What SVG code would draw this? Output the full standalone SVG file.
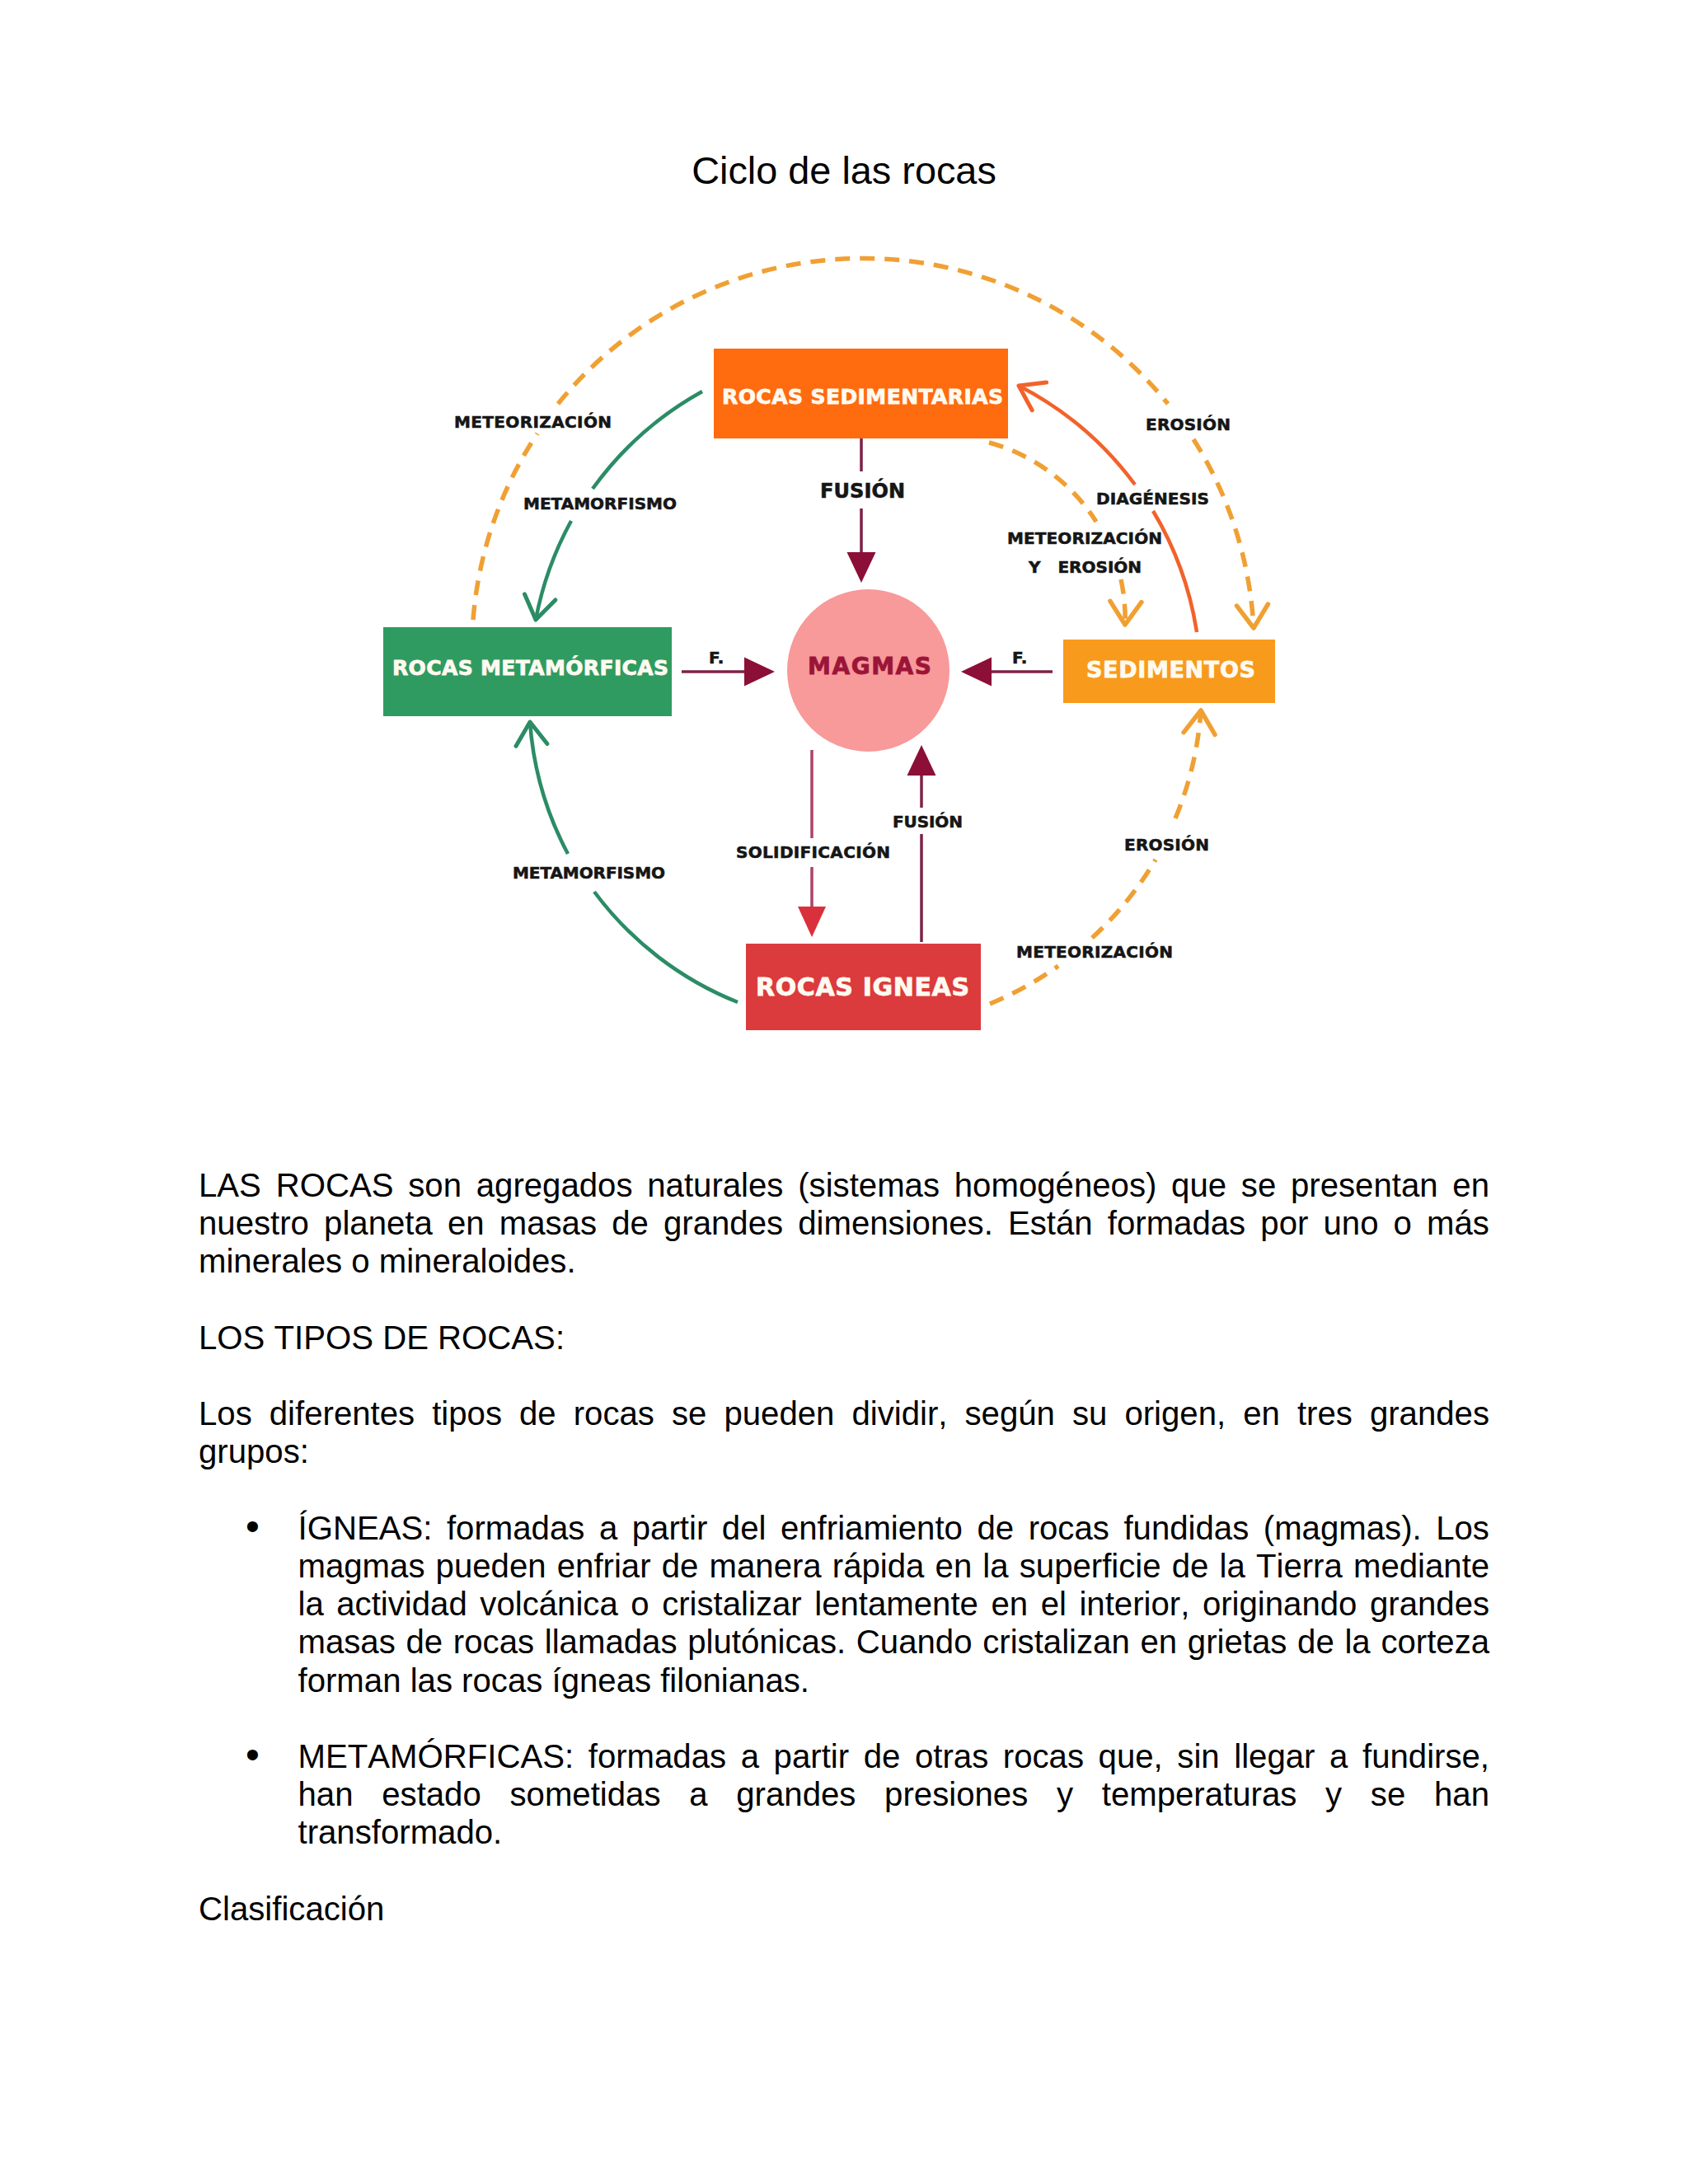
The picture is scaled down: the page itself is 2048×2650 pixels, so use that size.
<svg xmlns="http://www.w3.org/2000/svg" width="2048" height="2650" viewBox="0 0 2048 2650">
<style>
.body{font-family:"Liberation Sans",Arial,sans-serif;font-size:40.16px;fill:#000;font-kerning:none}
.title{font-family:"Liberation Sans",Arial,sans-serif;font-size:46.85px;fill:#000;font-kerning:none}
.box{font-family:"DejaVu Sans",sans-serif;font-weight:bold;fill:#fffaf0;stroke:#fffaf0;stroke-width:0.8;text-anchor:middle}
.lbl{font-family:"DejaVu Sans",sans-serif;font-weight:bold;fill:#161616;stroke:#161616;stroke-width:0.6;font-size:20px}
.green{fill:none;stroke:#2b8c65;stroke-width:4.5}
.orange{fill:none;stroke:#f2622b;stroke-width:4.5}
.dash{fill:none;stroke:#f0a033;stroke-width:5.5;stroke-dasharray:18 12}
.fus{fill:none;stroke:#7d2248;stroke-width:3.5}
.sol{fill:none;stroke:#ad4268;stroke-width:3.5}
</style>
<defs>
<marker id="chev-green" markerUnits="userSpaceOnUse" viewBox="-40 -30 50 60" markerWidth="50" markerHeight="60" refX="0" refY="0" orient="auto"><path d="M-28,-19 L0,0 L-28,19" fill="none" stroke="#2b8c65" stroke-width="5" stroke-linecap="round" stroke-linejoin="round"/></marker>
<marker id="chev-orange" markerUnits="userSpaceOnUse" viewBox="-40 -30 50 60" markerWidth="50" markerHeight="60" refX="0" refY="0" orient="auto"><path d="M-28,-19 L0,0 L-28,19" fill="none" stroke="#f2622b" stroke-width="5" stroke-linecap="round" stroke-linejoin="round"/></marker>
<marker id="chev-dash" markerUnits="userSpaceOnUse" viewBox="-40 -30 50 60" markerWidth="50" markerHeight="60" refX="0" refY="0" orient="auto"><path d="M-28,-19 L0,0 L-28,19" fill="none" stroke="#f0a033" stroke-width="5.5" stroke-linecap="round" stroke-linejoin="round"/></marker>
<marker id="tri-maroon" markerUnits="userSpaceOnUse" viewBox="0 -18 38 36" markerWidth="38" markerHeight="36" refX="0" refY="0" orient="auto"><path d="M0,-17.5 L37,0 L0,17.5 Z" fill="#8b0f37"/></marker>
<marker id="tri-red" markerUnits="userSpaceOnUse" viewBox="0 -18 38 36" markerWidth="38" markerHeight="36" refX="0" refY="0" orient="auto"><path d="M0,-17 L37,0 L0,17 Z" fill="#da303c"/></marker>
</defs>
<rect x="0" y="0" width="2048" height="2650" fill="#ffffff"/>

<text class="title" x="1024" y="223" text-anchor="middle">Ciclo de las rocas</text>

<g id="connectors">
  <path class="dash" d="M574,752 A476,476 0 0 1 652,526"/>
  <path class="dash" d="M677,490 A476,476 0 0 1 1417,490"/>
  <path class="dash" d="M1448,533 A476,476 0 0 1 1521,762" marker-end="url(#chev-dash)"/>
  <path class="dash" d="M1200,537 A224,224 0 0 1 1330,633"/>
  <path class="dash" d="M1360,703 A224,224 0 0 1 1365,758" marker-end="url(#chev-dash)"/>
  <path class="dash" d="M1201,1218 A417,417 0 0 0 1284,1172"/>
  <path class="dash" d="M1325,1138 A417,417 0 0 0 1402,1043"/>
  <path class="dash" d="M1426,993 A417,417 0 0 0 1457,862" marker-end="url(#chev-dash)"/>
  <path class="orange" d="M1452,767 A407,407 0 0 0 1399,620"/>
  <path class="orange" d="M1377,588 A407,407 0 0 0 1236,468" marker-end="url(#chev-orange)"/>
  <path class="green" d="M852,475 A407,407 0 0 0 719,593"/>
  <path class="green" d="M693,632 A407,407 0 0 0 650,752" marker-end="url(#chev-green)"/>
  <path class="green" d="M895,1216 A402,402 0 0 1 721,1082"/>
  <path class="green" d="M689,1036 A402,402 0 0 1 643,876" marker-end="url(#chev-green)"/>
  <path class="fus" d="M1045,532 V572"/>
  <path class="fus" d="M1045,617 V670" marker-end="url(#tri-maroon)"/>
  <path class="fus" d="M827,815 H903" marker-end="url(#tri-maroon)"/>
  <path class="fus" d="M1277,815 H1203" marker-end="url(#tri-maroon)"/>
  <path class="fus" d="M1118,1143 V1012"/>
  <path class="fus" d="M1118,980 V941" marker-end="url(#tri-maroon)"/>
  <path class="sol" d="M985,910 V1017"/>
  <path class="sol" d="M985,1052 V1100" marker-end="url(#tri-red)"/>
</g>

<g id="connector-labels">
  <text class="lbl" x="551" y="519" textLength="191">METEORIZACIÓN</text>
  <text class="lbl" x="635" y="618" textLength="186">METAMORFISMO</text>
  <text class="lbl" x="995" y="604" style="font-size:24px" textLength="103">FUSIÓN</text>
  <text class="lbl" x="1390" y="522" textLength="103">EROSIÓN</text>
  <text class="lbl" x="1330" y="612" textLength="137">DIAGÉNESIS</text>
  <text class="lbl" x="1222" y="660" textLength="188">METEORIZACIÓN</text>
  <text class="lbl" x="1248" y="695" style="word-spacing:14px">Y EROSIÓN</text>
  <text class="lbl" x="860" y="805">F.</text>
  <text class="lbl" x="1228" y="805">F.</text>
  <text class="lbl" x="893" y="1041" textLength="187">SOLIDIFICACIÓN</text>
  <text class="lbl" x="1083" y="1004" textLength="85">FUSIÓN</text>
  <text class="lbl" x="622" y="1066" textLength="185">METAMORFISMO</text>
  <text class="lbl" x="1364" y="1032" textLength="103">EROSIÓN</text>
  <text class="lbl" x="1233" y="1162" textLength="190">METEORIZACIÓN</text>
</g>

<g id="node-rocas-sedimentarias">
  <rect x="866" y="423" width="357" height="109" fill="#ff6b0f"/>
  <text class="box" x="1046.5" y="490" font-size="25" textLength="341">ROCAS SEDIMENTARIAS</text>
</g>
<g id="node-rocas-metamorficas">
  <rect x="465" y="761" width="350" height="108" fill="#2f9b61"/>
  <text class="box" x="643.5" y="819" font-size="25" textLength="335">ROCAS METAMÓRFICAS</text>
</g>
<g id="node-magmas">
  <circle cx="1053.5" cy="813.5" r="98.5" fill="#f8999a"/>
  <text class="box" x="1055" y="818" font-size="28" textLength="150" style="fill:#9b1538;stroke:#9b1538">MAGMAS</text>
</g>
<g id="node-sedimentos">
  <rect x="1290" y="776" width="257" height="77" fill="#f89a1c"/>
  <text class="box" x="1420.5" y="822" font-size="27" textLength="205">SEDIMENTOS</text>
</g>
<g id="node-rocas-igneas">
  <rect x="905" y="1145" width="285" height="105" fill="#db3b3d"/>
  <text class="box" x="1046.5" y="1208" font-size="30" textLength="259">ROCAS IGNEAS</text>
</g>

<g id="body-text">
  <text class="body" x="241" y="1452" style="word-spacing:6.6px">LAS ROCAS son agregados naturales (sistemas homogéneos) que se presentan en</text>
  <text class="body" x="241" y="1498.2" style="word-spacing:6.98px">nuestro planeta en masas de grandes dimensiones. Están formadas por uno o más</text>
  <text class="body" x="241" y="1544.4">minerales o mineraloides.</text>
  <text class="body" x="241" y="1636.8">LOS TIPOS DE ROCAS:</text>
  <text class="body" x="241" y="1729.2" style="word-spacing:9.88px">Los diferentes tipos de rocas se pueden dividir, según su origen, en tres grandes</text>
  <text class="body" x="241" y="1775.4">grupos:</text>
  <text class="body" x="298" y="1867.8" style="font-size:48px">•</text>
  <text class="body" x="361.5" y="1867.8" style="word-spacing:6.39px">ÍGNEAS: formadas a partir del enfriamiento de rocas fundidas (magmas). Los</text>
  <text class="body" x="361.5" y="1914" style="word-spacing:1.98px">magmas pueden enfriar de manera rápida en la superficie de la Tierra mediante</text>
  <text class="body" x="361.5" y="1960.2" style="word-spacing:4.38px">la actividad volcánica o cristalizar lentamente en el interior, originando grandes</text>
  <text class="body" x="361.5" y="2006.4" style="word-spacing:1.55px">masas de rocas llamadas plutónicas. Cuando cristalizan en grietas de la corteza</text>
  <text class="body" x="361.5" y="2052.6">forman las rocas ígneas filonianas.</text>
  <text class="body" x="298" y="2145" style="font-size:48px">•</text>
  <text class="body" x="361.5" y="2145" style="word-spacing:6.43px">METAMÓRFICAS: formadas a partir de otras rocas que, sin llegar a fundirse,</text>
  <text class="body" x="361.5" y="2191.2" style="word-spacing:23.56px">han estado sometidas a grandes presiones y temperaturas y se han</text>
  <text class="body" x="361.5" y="2237.4">transformado.</text>
  <text class="body" x="241" y="2329.8">Clasificación</text>
</g>
</svg>
